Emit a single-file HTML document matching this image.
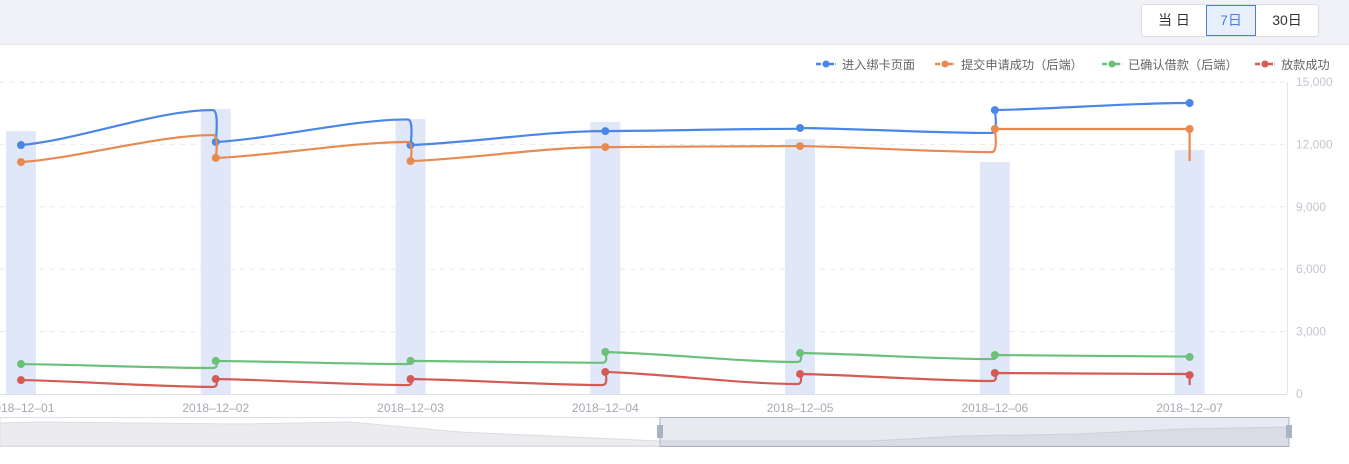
<!DOCTYPE html>
<html><head><meta charset="utf-8"><style>
body{margin:0;width:1349px;height:464px;overflow:hidden;background:#fff;font-family:"Liberation Sans","Noto Sans CJK SC",sans-serif}
.top{position:absolute;left:0;top:0;width:1349px;height:44px;background:#f0f2f7;border-bottom:1px solid #e3e6ec}
.btns{position:absolute;left:1141px;top:4px;height:31px;display:flex;border:1px solid #d9dce3;border-radius:3px;background:#fff;overflow:hidden}
.btns div{height:31px;line-height:31px;text-align:center;font-size:14px;color:#333}
</style></head><body>
<div class="top">
<div class="btns">
<div style="width:64px">当 日</div>
<div style="width:50px;background:#e8effc;color:#4a7fe0;outline:1px solid #4a7fe0;outline-offset:-1px">7日</div>
<div style="width:62px">30日</div>
</div></div>
<svg id="chart" width="1349" height="464" style="position:absolute;left:0;top:0"></svg>
<script>
const categories=['2018-12-01','2018-12-02','2018-12-03','2018-12-04','2018-12-05','2018-12-06','2018-12-07'];
const barValues=[12640,13700,13220,13080,12260,11150,11730];
const blueValues=[11970,12115,11970,12640,12790,13650,13990];
const blueSegEnd=[13650,13200,12640,12750,12550,13990];
const orangeValues=[11150,11350,11200,11870,11920,12740,12740];
const orangeSegEnd=[12450,12115,11870,11920,11630,12740];
const greenValues=[1440,1590,1590,2020,1970,1875,1780];
const greenSegEnd=[1250,1440,1500,1540,1680,1800];
const redValues=[670,720,720,1060,960,1010,910];
const redSegEnd=[340,430,430,480,625,960];
const yTicks=[0,3000,6000,9000,12000,15000];
const legendNames=['进入绑卡页面','提交申请成功（后端）','已确认借款（后端）','放款成功'];
const colors=['#4a86e8','#e8894f','#6cc07a','#d45b55'];
const svg=document.getElementById('chart');const NS='http://www.w3.org/2000/svg';
const L=-76.4,R=1287,T=82,B=394,step=(R-L)/categories.length;
const x=i=>L+step*(i+0.5), y=v=>B-(v/15000)*(B-T);
function mk(t,a,p){const e=document.createElementNS(NS,t);for(const k in a)e.setAttribute(k,a[k]);(p||svg).appendChild(e);return e;}
yTicks.forEach(v=>{
 if(v>0){const g=mk('line',{x1:0,x2:R,y1:y(v),y2:y(v),stroke:'#e8eaee','stroke-dasharray':'5,5'});}
 const t=mk('text',{x:1296,y:y(v)+4,'font-size':12,fill:'#c3c6ce'});t.textContent=v.toLocaleString('en-US');
 
});
mk('line',{x1:0,x2:R,y1:B+.5,y2:B+.5,stroke:'#dcdfe6'});
mk('line',{x1:R+.5,x2:R+.5,y1:T,y2:B,stroke:'#e3e5ea'});
barValues.forEach((v,i)=>{const r=mk('rect',{x:x(i)-15,y:y(v),width:30,height:B-y(v),fill:'#dfe7f9'});
 });
categories.forEach((c,i)=>{const t=mk('text',{x:x(i),y:412,'font-size':12,fill:'#a5a9b3','text-anchor':'middle'});t.textContent=c.replace(/-/g,'–');
 });
const series=[[blueValues,blueSegEnd],[orangeValues,orangeSegEnd],[greenValues,greenSegEnd],[redValues,redSegEnd]];
series.forEach(([vals,ends],s)=>{
 let d='M'+x(0)+','+y(vals[0]);
 for(let i=0;i<vals.length-1;i++){const x0=x(i),x1=x(i+1),y0=y(vals[i]),y1=y(ends[i]);
  d+=` C${x0+step*0.3},${y0+(y1-y0)*0.15} ${x1-step*0.3},${y1} ${x1-3},${y1} Q${x1+3},${y1} ${x1},${y(vals[i+1])}`;}
 if(s===1||s===3){const last=vals.length-1;d+=` L${x(last)},${y(vals[last])+(s===1?32:10)}`;}
 const p=mk('path',{d,fill:'none',stroke:colors[s],'stroke-width':2.2});
 
 vals.forEach((v,i)=>{const c=mk('circle',{cx:x(i),cy:y(v),r:4,fill:colors[s]});
  });
});
const lx=[816,935,1102,1255];
legendNames.forEach((n,i)=>{const g=mk('g',{});
 mk('line',{x1:lx[i],x2:lx[i]+20,y1:64,y2:64,stroke:colors[i],'stroke-width':2.5,'stroke-dasharray':'5,1.5'},g);
 mk('circle',{cx:lx[i]+10,cy:64,r:3.5,fill:colors[i]},g);
 const t=mk('text',{x:lx[i]+26,y:69,'font-size':12.2,fill:'#666'},g);t.textContent=n;});
const dz=mk('g',{});
mk('rect',{x:0,y:417.5,width:1289,height:29,fill:'#fff',stroke:'#dcdde2'},dz);
mk('path',{d:'M0,423 L40,422 L240,424 L350,422 L460,432 L660,441 L870,441 L960,436 L1080,434 L1180,429 L1289,427 L1289,446 L0,446Z',fill:'#ececef',stroke:'#dcdde2'},dz);
mk('rect',{x:660,y:417.5,width:629,height:29,fill:'rgba(160,172,200,0.25)',stroke:'#aab3c6'},dz);
[660,1289].forEach(hx=>{const h=mk('rect',{x:hx-3,y:425,width:6,height:13,fill:'#aab3c6'},dz);});
</script></body></html>
